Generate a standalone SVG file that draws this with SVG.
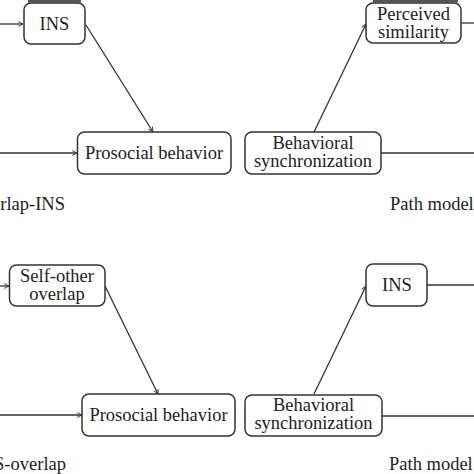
<svg xmlns="http://www.w3.org/2000/svg" width="474" height="474" viewBox="0 0 474 474">
<style>
.box{fill:#fff;stroke:#333;stroke-width:1.5}
.t{font-family:"Liberation Serif","Times New Roman",serif;font-size:18.5px;fill:#222}
.c{text-anchor:middle}
.ln{fill:none;stroke:#333;stroke-width:1.3}
</style>
<defs>
<marker id="ah" viewBox="0 0 10 10" refX="9" refY="5" markerWidth="6" markerHeight="6" orient="auto" markerUnits="userSpaceOnUse">
<path d="M1,1 L9,5 L1,9" fill="none" stroke="#333" stroke-width="1.5"/>
</marker>
</defs>
<rect width="474" height="474" fill="#fff"/>
<rect x="28" y="0" width="53" height="2.5" fill="#555"/>
<rect x="373" y="0" width="85" height="2.5" fill="#555"/>
<g id="connectors">
<line class="ln" x1="0" y1="24" x2="23" y2="24" marker-end="url(#ah)"/>
<line class="ln" x1="86" y1="25" x2="153" y2="132" marker-end="url(#ah)"/>
<line class="ln" x1="0" y1="153" x2="77" y2="153" marker-end="url(#ah)"/>
<line class="ln" x1="314" y1="132" x2="366" y2="24" marker-end="url(#ah)"/>
<line class="ln" x1="461" y1="23" x2="474" y2="23"/>
<line class="ln" x1="381" y1="153" x2="474" y2="153"/>
<line class="ln" x1="0" y1="286" x2="9" y2="286" marker-end="url(#ah)"/>
<line class="ln" x1="105" y1="286" x2="158" y2="394" marker-end="url(#ah)"/>
<line class="ln" x1="0" y1="415" x2="82" y2="415" marker-end="url(#ah)"/>
<line class="ln" x1="314" y1="394" x2="366" y2="286" marker-end="url(#ah)"/>
<line class="ln" x1="427" y1="285" x2="474" y2="285"/>
<line class="ln" x1="382" y1="416" x2="474" y2="416"/>
</g>
<g id="ins1"><rect class="box" x="24" y="3" width="61" height="41" rx="7"/><text class="t c" x="54.5" y="30">INS</text></g>
<g id="prosocial1"><rect class="box" x="77.5" y="132" width="153.5" height="42" rx="7"/><text class="t c" x="154" y="159">Prosocial behavior</text></g>
<g id="perceived"><rect class="box" x="366" y="3" width="95" height="40" rx="7"/><text class="t c" x="413.5" y="20">Perceived</text><text class="t c" x="413.5" y="38">similarity</text></g>
<g id="behav1"><rect class="box" x="245" y="132" width="136" height="42" rx="7"/><text class="t c" x="313" y="149">Behavioral</text><text class="t c" x="313" y="167">synchronization</text></g>
<g id="selfother"><rect class="box" x="9.5" y="265" width="95.5" height="41" rx="7"/><text class="t c" x="57" y="282">Self-other</text><text class="t c" x="57" y="300">overlap</text></g>
<g id="prosocial2"><rect class="box" x="82" y="394" width="153" height="42" rx="7"/><text class="t c" x="158.5" y="421">Prosocial behavior</text></g>
<g id="ins2"><rect class="box" x="366" y="264" width="61" height="42" rx="7"/><text class="t c" x="397" y="291">INS</text></g>
<g id="behav2"><rect class="box" x="245" y="395" width="137" height="41" rx="7"/><text class="t c" x="313.5" y="411">Behavioral</text><text class="t c" x="313.5" y="429">synchronization</text></g>
<text class="t" x="65" y="210" text-anchor="end">Self-other overlap-INS</text>
<text class="t" x="390" y="210">Path model</text>
<text class="t" x="66" y="470" text-anchor="end">INS-overlap</text>
<text class="t" x="389" y="470">Path model</text>
</svg>
